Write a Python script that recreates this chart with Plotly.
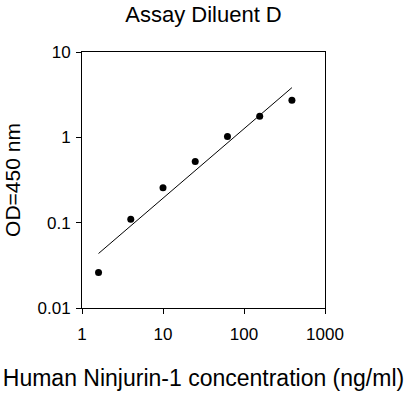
import numpy as np
import plotly.graph_objects as go

concentration = [1.6, 4.0, 10.0, 25.0, 62.5, 156.25, 390.6]
od450 = [0.026, 0.11, 0.257, 0.52, 1.02, 1.77, 2.72]
x_ticks = [1, 10, 100, 1000]
x_tick_labels = ["1", "10", "100", "1000"]
y_ticks = [0.01, 0.1, 1, 10]
y_tick_labels = ["0.01", "0.1", "1", "10"]

# log-log linear fit
lx = np.log10(concentration)
ly = np.log10(od450)
slope, intercept = np.polyfit(lx, ly, 1)
fit_x = [concentration[0], concentration[-1]]
fit_y = [10 ** (intercept + slope * np.log10(v)) for v in fit_x]

FONT = "Liberation Sans, Arial, sans-serif"

fig = go.Figure()
fig.add_trace(go.Scatter(x=fit_x, y=fit_y, mode="lines",
                         line=dict(color="black", width=1), showlegend=False))
fig.add_trace(go.Scatter(x=concentration, y=od450, mode="markers",
                         marker=dict(color="black", size=7), showlegend=False))

fig.update_layout(
    width=408, height=397,
    margin=dict(l=82, r=83, t=52, b=89),
    paper_bgcolor="white", plot_bgcolor="white",
    font=dict(family=FONT, color="black", size=17),
    title=dict(text="Assay Diluent D", xref="paper", x=0.5, xanchor="center",
               yref="container", y=1, yanchor="top", pad=dict(t=7, b=0),
               font=dict(size=22, family=FONT, color="black")),
    xaxis=dict(type="log", range=[0, 3], tickvals=x_ticks, ticktext=x_tick_labels,
               showgrid=False, zeroline=False, showline=True, linecolor="black", linewidth=1,
               mirror=True, ticks="outside", ticklen=5, tickcolor="black",
               tickfont=dict(size=17), automargin=False, ticklabelstandoff=6,
               title=dict(text="Human Ninjurin-1 concentration (ng/ml)",
                          font=dict(size=23), standoff=26)),
    yaxis=dict(type="log", range=[-2, 1], tickvals=y_ticks, ticktext=y_tick_labels,
               showgrid=False, zeroline=False, showline=True, linecolor="black", linewidth=1,
               mirror=True, ticks="outside", ticklen=5, tickcolor="black",
               tickfont=dict(size=17), automargin=False, ticklabelstandoff=2,
               title=dict(text="OD=450 nm", font=dict(size=21), standoff=11)),
)

fig.write_html("out.html", config={"displayModeBar": False},
               post_script="document.body.style.margin='0';")
